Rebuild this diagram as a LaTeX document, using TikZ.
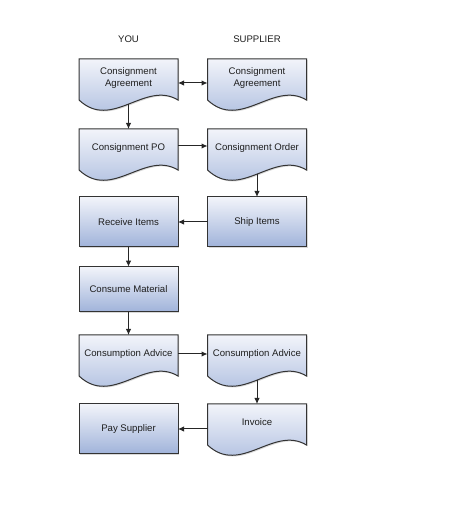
\documentclass[tikz,border=0pt]{standalone}
\usepackage{fontspec}
\setmainfont{Liberation Sans}
\usetikzlibrary{arrows.meta, positioning, calc, shadows, backgrounds}
\definecolor{boxTop}{HTML}{F2F4FA}
\definecolor{boxBottom}{HTML}{A0B3DA}
\definecolor{boxLine}{HTML}{333333}
\definecolor{flowText}{HTML}{1E1E1E}
\tikzset{
    boxShade/.style={draw=boxLine, line width=1pt, top color=boxTop, bottom color=boxBottom,
        drop shadow={shadow xshift=1.2pt, shadow yshift=-1.2pt, opacity=0.25, fill=black!60}},
    stepBox/.style={boxShade, rectangle, minimum width=99pt, inner sep=0pt, outer sep=0pt,
        align=center, text=flowText, font=\fontsize{9.6}{12}\selectfont},
    docBox/.style={rectangle, minimum width=99pt, minimum height=41pt, inner sep=0pt, outer sep=0pt,
        align=center, text depth=5.3pt, text=flowText, font=\fontsize{9.6}{12}\selectfont},
    colHead/.style={text=flowText, font=\fontsize{9.6}{12}\selectfont},
    flow/.style={-{Latex[length=6pt,width=5.5pt]}, line width=1pt, black!85},
    flowBoth/.style={{Latex[length=6pt,width=5.5pt]}-{Latex[length=6pt,width=5.5pt]}, line width=1pt, black!85}
}
\newcommand{\DrawDoc}[1]{
    \begin{scope}[on background layer]
        % Side, wavy bottom and top of the document
        \draw[boxShade] (#1.north west) -- (#1.south west)
            .. controls ($(#1.south west)!1/3!(#1.south east)+(0,-31)$) and ($(#1.south west)!2/3!(#1.south east)+(0,20)$) .. (#1.south east)
            -- (#1.north east) -- cycle;
    \end{scope}
}

\begin{document}
\begin{tikzpicture}[x=1pt, y=1pt]
    \useasboundingbox (0,0) rectangle (474,513);

    % Column heads
    \node[colHead] (headYou) at (128.5,474) {YOU};
    \node[colHead] (headSup) at (257,474) {SUPPLIER};

    % Agreements
    \node[docBox] (agreeYou) at (128.5,433.5) {Consignment\\Agreement};
    \node[docBox] (agreeSup) at (257,433.5) {Consignment\\Agreement};
    \DrawDoc{agreeYou}
    \DrawDoc{agreeSup}

    % Order documents
    \node[docBox] (poYou) at (128.5,363.5) {Consignment PO};
    \node[docBox] (orderSup) at (257,363.5) {Consignment Order};
    \DrawDoc{poYou}
    \DrawDoc{orderSup}

    % Shipping and receiving
    \node[stepBox, minimum height=50pt] (receiveYou) at (128.5,291) {Receive Items};
    \node[stepBox, minimum height=50pt] (shipSup) at (257,291) {Ship Items};
    \node[stepBox, minimum height=45pt] (consumeYou) at (128.5,223.8) {Consume Material};

    % Advice and invoice
    \node[docBox] (adviceYou) at (128.5,157.5) {Consumption Advice};
    \node[docBox] (adviceSup) at (257,157.5) {Consumption Advice};
    \DrawDoc{adviceYou}
    \DrawDoc{adviceSup}
    \node[docBox] (invoiceSup) at (257,88.5) {Invoice};
    \DrawDoc{invoiceSup}
    \node[stepBox, minimum height=50pt] (payYou) at (128.5,84) {Pay Supplier};

    % Connectors
    \draw[flowBoth] ([yshift=-3.5pt]agreeYou.east) -- ([yshift=-3.5pt]agreeSup.west);
    \draw[flow] ([yshift=-4pt]agreeYou.south) -- (poYou.north);
    \draw[flow] ([yshift=3.5pt]poYou.east) -- ([yshift=3.5pt]orderSup.west);
    \draw[flow] ([yshift=-4pt]orderSup.south) -- (shipSup.north);
    \draw[flow] (shipSup.west) -- (receiveYou.east);
    \draw[flow] (receiveYou.south) -- (consumeYou.north);
    \draw[flow] (consumeYou.south) -- (adviceYou.north);
    \draw[flow] ([yshift=1.5pt]adviceYou.east) -- ([yshift=1.5pt]adviceSup.west);
    \draw[flow] ([yshift=-4pt]adviceSup.south) -- (invoiceSup.north);
    \draw[flow] (payYou.east -| invoiceSup.west) -- (payYou.east);
\end{tikzpicture}
\end{document}
